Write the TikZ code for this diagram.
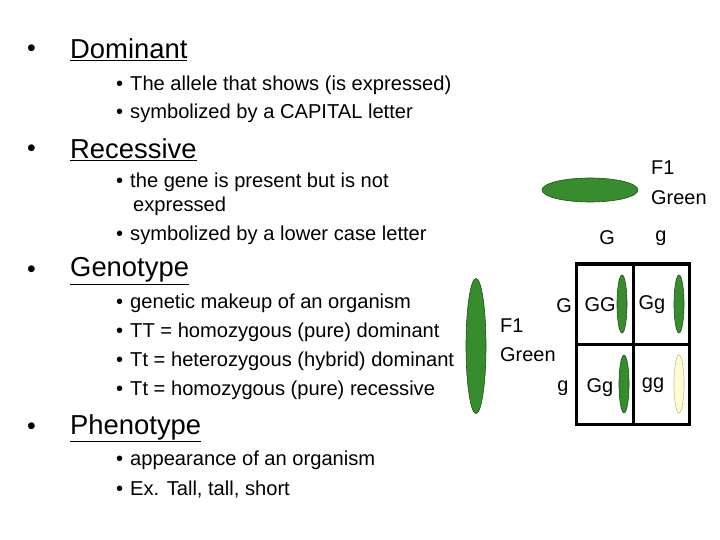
\documentclass[tikz,border=0pt]{standalone}
\usepackage{fontspec}
\usetikzlibrary{shapes.geometric}
\setmainfont{Liberation Sans}
\definecolor{podg}{RGB}{55,140,45}
\definecolor{podd}{RGB}{30,80,25}
\begin{document}
\begin{tikzpicture}[x=1bp,y=-1bp,
 main/.style={anchor=west,font=\fontsize{27.5}{30}\selectfont,inner sep=0},
 mbul/.style={anchor=west,font=\fontsize{25}{28}\selectfont,inner sep=0},
 sub/.style={anchor=west,font=\fontsize{20.2}{24}\selectfont,inner sep=0,align=left},
 lab/.style={font=\fontsize{20}{22}\selectfont,inner sep=0},
 pod/.style={draw=podd,fill=podg,line width=0.6bp},
 cellline/.style={line width=3bp}]
\useasboundingbox (0,0) rectangle (720,540);
% left text
\node[mbul] (b1) at (27,51) {•};
\node[main] (m1) at (70,50) {\underline{Dominant}};
\node[sub] (s1) at (116,85) {•\hspace{7bp}The allele that shows (is expressed)};
\node[sub] (s2) at (116,113) {•\hspace{7bp}symbolized by a CAPITAL letter};
\node[mbul] (b2) at (27,151) {•};
\node[main] (m2) at (70,150) {\underline{Recessive}};
\node[sub] (s3) at (116,182) {•\hspace{7bp}the gene is present but is not};
\node[sub] (s3b) at (133,206) {expressed};
\node[sub] (s4) at (116,235) {•\hspace{7bp}symbolized by a lower case letter};
\node[mbul] (b3) at (27,272) {•};
\node[main] (m3) at (70,271) {\underline{Genotype}};
\node[sub] (g1) at (116,303) {•\hspace{7bp}genetic makeup of an organism};
\node[sub] (g2) at (116,332) {•\hspace{7bp}TT = homozygous (pure) dominant};
\node[sub] (g3) at (116,361) {•\hspace{7bp}Tt = heterozygous (hybrid) dominant};
\node[sub] (g4) at (116,390) {•\hspace{7bp}Tt = homozygous (pure) recessive};
\node[mbul] (b4) at (27,429) {•};
\node[main] (m4) at (70,428) {\underline{Phenotype}};
\node[sub] (p1) at (116,460) {•\hspace{7bp}appearance of an organism};
\node[sub] (p2) at (116,489) {•\hspace{7bp}Ex. Tall, tall, short};
% punnett
\draw[cellline] (576,264) rectangle (689,424);
\draw[cellline] (633,264) -- (633,424);
\draw[cellline] (576,344) -- (689,344);
\node[pod,ellipse,minimum width=96bp,minimum height=24bp] at (590,190) {};
\node[pod,ellipse,minimum width=20bp,minimum height=135bp] at (476,346) {};
\node[pod,ellipse,minimum width=10bp,minimum height=58bp] at (622,304) {};
\node[pod,ellipse,minimum width=10bp,minimum height=58bp] at (679,304) {};
\node[pod,ellipse,minimum width=10bp,minimum height=58bp] at (624,384) {};
\node[pod,ellipse,draw=yellow!50!gray,fill=yellow!15,minimum width=10bp,minimum height=58bp] at (679,384) {};
\node[lab,anchor=west] (f1t) at (651,168) {F1};
\node[lab,anchor=west] (grt) at (651,198) {Green};
\node[lab] (cG) at (607,238) {G};
\node[lab] (cg) at (661,238) {g};
\node[lab] (rG) at (564,306) {G};
\node[lab] (rg) at (563,388) {g};
\node[lab,anchor=west] (f1l) at (500,326) {F1};
\node[lab,anchor=west] (grl) at (500,355) {Green};
\node[lab] (GG) at (600,305) {GG};
\node[lab] (Gg1) at (652,305) {Gg};
\node[lab] (Gg2) at (600,388) {Gg};
\node[lab] (gg) at (653,385) {gg};
\end{tikzpicture}
\end{document}
